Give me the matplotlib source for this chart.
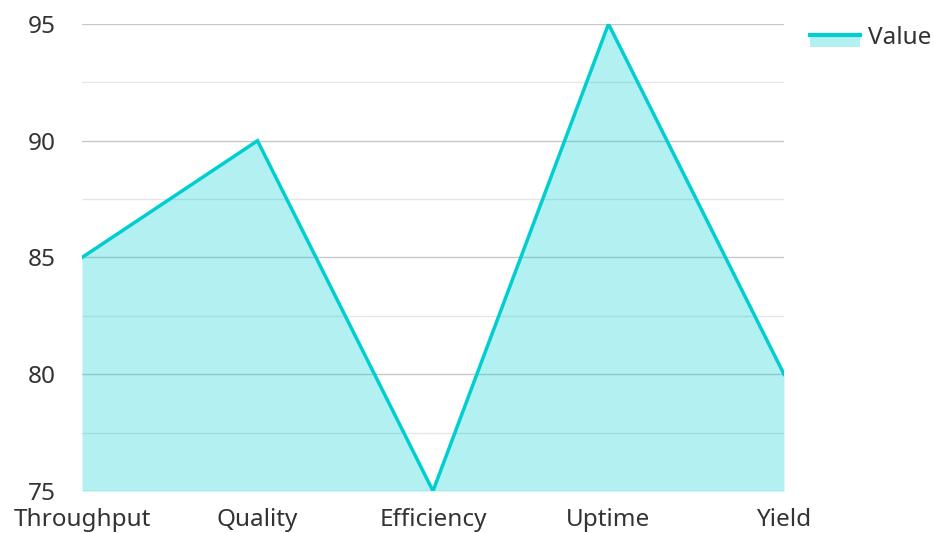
import matplotlib
matplotlib.use("Agg")
import matplotlib.pyplot as plt
from matplotlib.lines import Line2D
from matplotlib.legend_handler import HandlerBase
from matplotlib.patches import Rectangle
import numpy as np

categories = ["Throughput", "Quality", "Efficiency", "Uptime", "Yield"]
values = [85, 90, 75, 95, 80]
series_name = "Value"
yticks = [75, 80, 85, 90, 95]

plt.rcParams['font.family'] = ['Noto Sans', 'DejaVu Sans']

color = "#00CED1"
fs = 17.5
fig = plt.figure(figsize=(9.34, 5.33), dpi=100)
ax = fig.add_axes([82/934, 1-491/533, (784-82)/934, (491-24)/533])

x = np.arange(len(categories))
ax.fill_between(x, values, 75, color=color, alpha=0.3, linewidth=0, zorder=2)
ax.plot(x, values, color=color, linewidth=2.5, zorder=3, solid_joinstyle='miter')

ax.set_xlim(0, len(categories)-1)
ax.set_ylim(75, 95)
ax.set_yticks(yticks)
ax.set_yticks([77.5, 82.5, 87.5, 92.5], minor=True)
ax.set_xticks(x)
ax.set_xticklabels(categories)
for s in ax.spines.values():
    s.set_visible(False)
ax.grid(True, axis='y', which='major', color='#c8c8c8', linewidth=1, zorder=1)
ax.grid(True, axis='y', which='minor', color='#e6e6e6', linewidth=1, zorder=1)
ax.set_axisbelow(True)
ax.tick_params(axis='both', which='both', length=0, labelsize=fs, colors='#333333')
ax.tick_params(axis='y', pad=19)
ax.tick_params(axis='x', pad=12.5)

class H(HandlerBase):
    def create_artists(self, legend, orig, xd, yd, w, h, fontsize, trans):
        mid = yd + h/2
        r = Rectangle((xd, mid - 8.5), w, 8.5, facecolor=color, alpha=0.3, transform=trans, linewidth=0)
        l = Line2D([xd, xd+w], [mid, mid], color=color, linewidth=3, transform=trans)
        return [r, l]

fig.legend([object()], [series_name], handler_map={object: H()}, loc='upper left',
           bbox_to_anchor=(810/934, 1-26/533), bbox_transform=fig.transFigure,
           frameon=False, fontsize=fs, handlelength=50*0.72/fs, handleheight=0.7,
           handletextpad=6/fs, labelcolor='#333333', borderpad=0, borderaxespad=0)

fig.savefig("out.png", dpi=100)
